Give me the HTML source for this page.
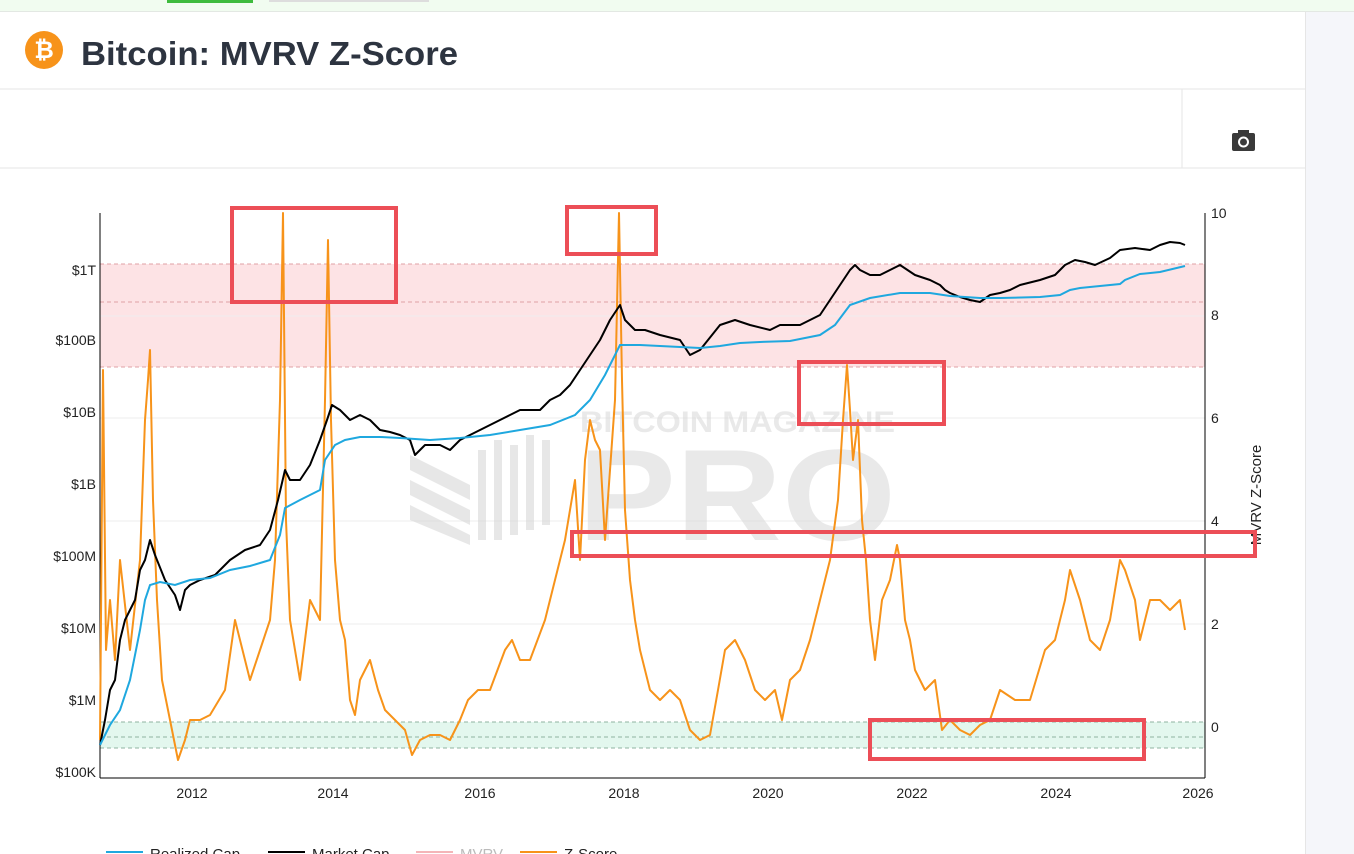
<!DOCTYPE html>
<html><head><meta charset="utf-8"><style>
body{margin:0;width:1354px;height:854px;overflow:hidden;background:#f5f6fa;font-family:"Liberation Sans",sans-serif;position:relative}
.top{position:absolute;left:0;top:0;width:1354px;height:11px;background:#f1fcf0;border-bottom:1px solid #e3e8e3}
.card{position:absolute;left:0;top:12px;width:1305px;height:842px;background:#fff;border-right:1px solid #e6e6e6}
</style></head><body>
<div class="top"><div style="position:absolute;left:167px;top:0;width:86px;height:3px;background:#3dbb3d"></div><div style="position:absolute;left:269px;top:0;width:160px;height:2px;background:#ddd"></div></div>
<div class="card"></div>
<svg width="1354" height="854" style="position:absolute;left:0;top:0" font-family="Liberation Sans, sans-serif">
<circle cx="44" cy="50" r="19" fill="#f7931a"/>
<text x="44" y="58" font-size="24" font-weight="bold" fill="#fff" text-anchor="middle">₿</text>
<text x="81" y="65" font-size="33" font-weight="bold" fill="#2d3440" textLength="377" lengthAdjust="spacingAndGlyphs">Bitcoin: MVRV Z-Score</text>
<line x1="0" y1="89" x2="1305" y2="89" stroke="#e5e5e5"/>
<line x1="0" y1="168" x2="1305" y2="168" stroke="#e5e5e5"/>
<line x1="1182" y1="89" x2="1182" y2="168" stroke="#e5e5e5"/>
<rect x="1232" y="133" width="23" height="18" rx="2" fill="#3a3a3a"/><rect x="1238" y="130" width="11" height="5" fill="#3a3a3a"/><circle cx="1243.5" cy="142" r="4.5" fill="none" stroke="#fff" stroke-width="2"/>
<rect x="100" y="264" width="1105" height="103" fill="#fde3e5"/>
<rect x="100" y="722" width="1105" height="26" fill="#e3f7ee"/>
<g stroke-dasharray="4,3" stroke-width="1">
<line x1="100" y1="264" x2="1205" y2="264" stroke="#e0a0a5"/><line x1="100" y1="302" x2="1205" y2="302" stroke="#e0a0a5"/><line x1="100" y1="367" x2="1205" y2="367" stroke="#e0a0a5"/>
<line x1="100" y1="722" x2="1205" y2="722" stroke="#8fb3a0"/><line x1="100" y1="737" x2="1205" y2="737" stroke="#8fb3a0"/><line x1="100" y1="748" x2="1205" y2="748" stroke="#8fb3a0"/>
</g>
<g stroke="#eee"><line x1="100" y1="624" x2="1205" y2="624"/><line x1="100" y1="521" x2="1205" y2="521"/><line x1="100" y1="418" x2="1205" y2="418"/><line x1="100" y1="316" x2="1205" y2="316"/></g>
<g opacity="0.55">
<text x="580" y="432" font-size="30" font-weight="bold" fill="#d8d8d8" textLength="315" lengthAdjust="spacingAndGlyphs">BITCOIN MAGAZINE</text>
<text x="578" y="540" font-size="130" font-weight="bold" fill="#d8d8d8" textLength="318" lengthAdjust="spacingAndGlyphs">PRO</text>
<g fill="#d4d4d4"><polygon points="410,455 470,485 470,500 410,470"/><polygon points="410,480 470,510 470,525 410,495"/><polygon points="410,505 470,535 470,545 410,520"/>
<rect x="478" y="450" width="8" height="90"/><rect x="494" y="440" width="8" height="100"/><rect x="510" y="445" width="8" height="90"/><rect x="526" y="435" width="8" height="95"/><rect x="542" y="440" width="8" height="85"/></g>
</g>
<line x1="100" y1="213" x2="100" y2="778" stroke="#000"/>
<line x1="100" y1="778" x2="1205" y2="778" stroke="#000"/>
<line x1="1205" y1="213" x2="1205" y2="778" stroke="#000"/>
<g font-size="14" fill="#222" text-anchor="end">
<text x="96" y="275">$1T</text><text x="96" y="345">$100B</text><text x="96" y="417">$10B</text><text x="96" y="489">$1B</text><text x="96" y="561">$100M</text><text x="96" y="633">$10M</text><text x="96" y="705">$1M</text><text x="96" y="777">$100K</text>
</g>
<g font-size="14" fill="#222">
<text x="1211" y="218">10</text><text x="1211" y="320">8</text><text x="1211" y="423">6</text><text x="1211" y="526">4</text><text x="1211" y="629">2</text><text x="1211" y="732">0</text>
</g>
<g font-size="14" fill="#222" text-anchor="middle">
<text x="192" y="798">2012</text><text x="333" y="798">2014</text><text x="480" y="798">2016</text><text x="624" y="798">2018</text><text x="768" y="798">2020</text><text x="912" y="798">2022</text><text x="1056" y="798">2024</text><text x="1198" y="798">2026</text>
</g>
<text transform="translate(1261,495) rotate(-90)" font-size="15" fill="#222" text-anchor="middle">MVRV Z-Score</text>
<polyline fill="none" stroke="#f7931a" stroke-width="2" stroke-linejoin="round" points="100,740 103,370 106,650 110,600 115,660 120,560 130,650 140,560 145,420 148,380 150,350 153,500 157,600 162,680 170,720 178,760 185,740 190,720 200,720 210,715 225,690 235,620 240,640 250,680 260,650 270,620 275,560 280,400 283,213 286,520 290,620 295,650 300,680 305,640 310,600 320,620 325,400 328,240 331,420 335,560 340,620 345,640 350,700 355,715 360,680 370,660 378,690 385,710 395,720 405,730 412,755 420,740 430,735 440,735 450,740 460,720 468,700 478,690 490,690 505,650 512,640 520,660 530,660 545,620 555,580 565,540 575,480 580,560 585,460 590,420 595,440 600,450 605,540 610,470 615,400 619,213 622,380 625,510 630,580 635,620 640,650 650,690 660,700 670,690 680,700 690,730 700,740 710,735 718,690 725,650 735,640 745,660 755,690 765,700 775,690 782,720 790,680 800,670 810,640 820,600 830,560 838,500 843,420 847,365 850,410 853,460 858,420 862,520 866,560 870,620 875,660 882,600 890,580 897,545 900,560 905,620 910,640 915,670 925,690 935,680 942,730 950,720 960,730 970,735 980,725 990,720 1000,690 1015,700 1030,700 1045,650 1055,640 1065,600 1070,570 1080,600 1090,640 1100,650 1110,620 1120,560 1125,570 1135,600 1140,640 1150,600 1160,600 1170,610 1180,600 1185,630"/>
<polyline fill="none" stroke="#000" stroke-width="2" stroke-linejoin="round" points="100,745 105,720 110,690 115,680 120,640 125,620 130,610 135,600 140,570 145,560 150,540 155,555 165,580 175,595 180,610 185,590 190,585 200,580 215,575 230,560 245,550 260,545 270,530 278,500 285,470 290,480 300,480 310,465 320,440 327,420 332,405 340,410 350,420 360,415 370,420 380,430 390,432 400,435 410,440 415,455 425,445 440,445 450,450 460,440 470,435 480,430 490,425 500,420 510,415 520,410 540,410 550,400 560,395 570,385 580,370 590,355 600,340 610,320 620,305 625,320 635,330 645,330 660,335 680,340 690,355 700,350 720,325 735,320 750,325 770,330 780,325 790,325 800,325 820,315 830,300 840,285 850,270 855,265 860,270 870,275 880,275 890,270 900,265 915,275 930,280 940,285 945,290 950,293 960,297 970,300 980,302 990,295 1000,293 1010,290 1020,285 1040,280 1055,275 1065,265 1075,260 1085,262 1095,265 1110,258 1120,250 1135,248 1150,250 1160,245 1170,242 1180,243 1185,245"/>
<polyline fill="none" stroke="#1fa8df" stroke-width="2" points="100,745 110,725 120,710 130,680 140,630 145,600 150,585 160,582 175,585 190,580 210,578 230,570 250,566 270,560 280,535 285,508 300,500 320,490 325,460 335,445 345,440 360,437 380,437 400,438 430,440 460,438 490,435 520,430 550,425 575,415 590,400 605,375 620,345 640,345 680,347 700,348 720,346 740,343 760,342 790,341 820,335 835,325 850,305 870,298 900,293 930,293 950,296 980,298 1000,298 1040,297 1060,295 1070,290 1080,288 1100,286 1120,284 1125,280 1140,274 1160,272 1185,266"/>
<g fill="none" stroke="#ec4e57" stroke-width="4">
<rect x="232" y="208" width="164" height="94"/><rect x="567" y="207" width="89" height="47"/><rect x="799" y="362" width="145" height="62"/><rect x="572" y="532" width="683" height="24"/><rect x="870" y="720" width="274" height="39"/>
</g>
<g font-size="15">
<line x1="106" y1="852" x2="143" y2="852" stroke="#1fa8df" stroke-width="2"/><text x="150" y="859" fill="#222">Realized Cap</text>
<line x1="268" y1="852" x2="305" y2="852" stroke="#000" stroke-width="2"/><text x="312" y="859" fill="#222">Market Cap</text>
<line x1="416" y1="852" x2="453" y2="852" stroke="#f4b5b8" stroke-width="2"/><text x="460" y="859" fill="#bbb">MVRV</text>
<line x1="520" y1="852" x2="557" y2="852" stroke="#f7931a" stroke-width="2"/><text x="564" y="859" fill="#222">Z-Score</text>
</g>
</svg>
</body></html>
